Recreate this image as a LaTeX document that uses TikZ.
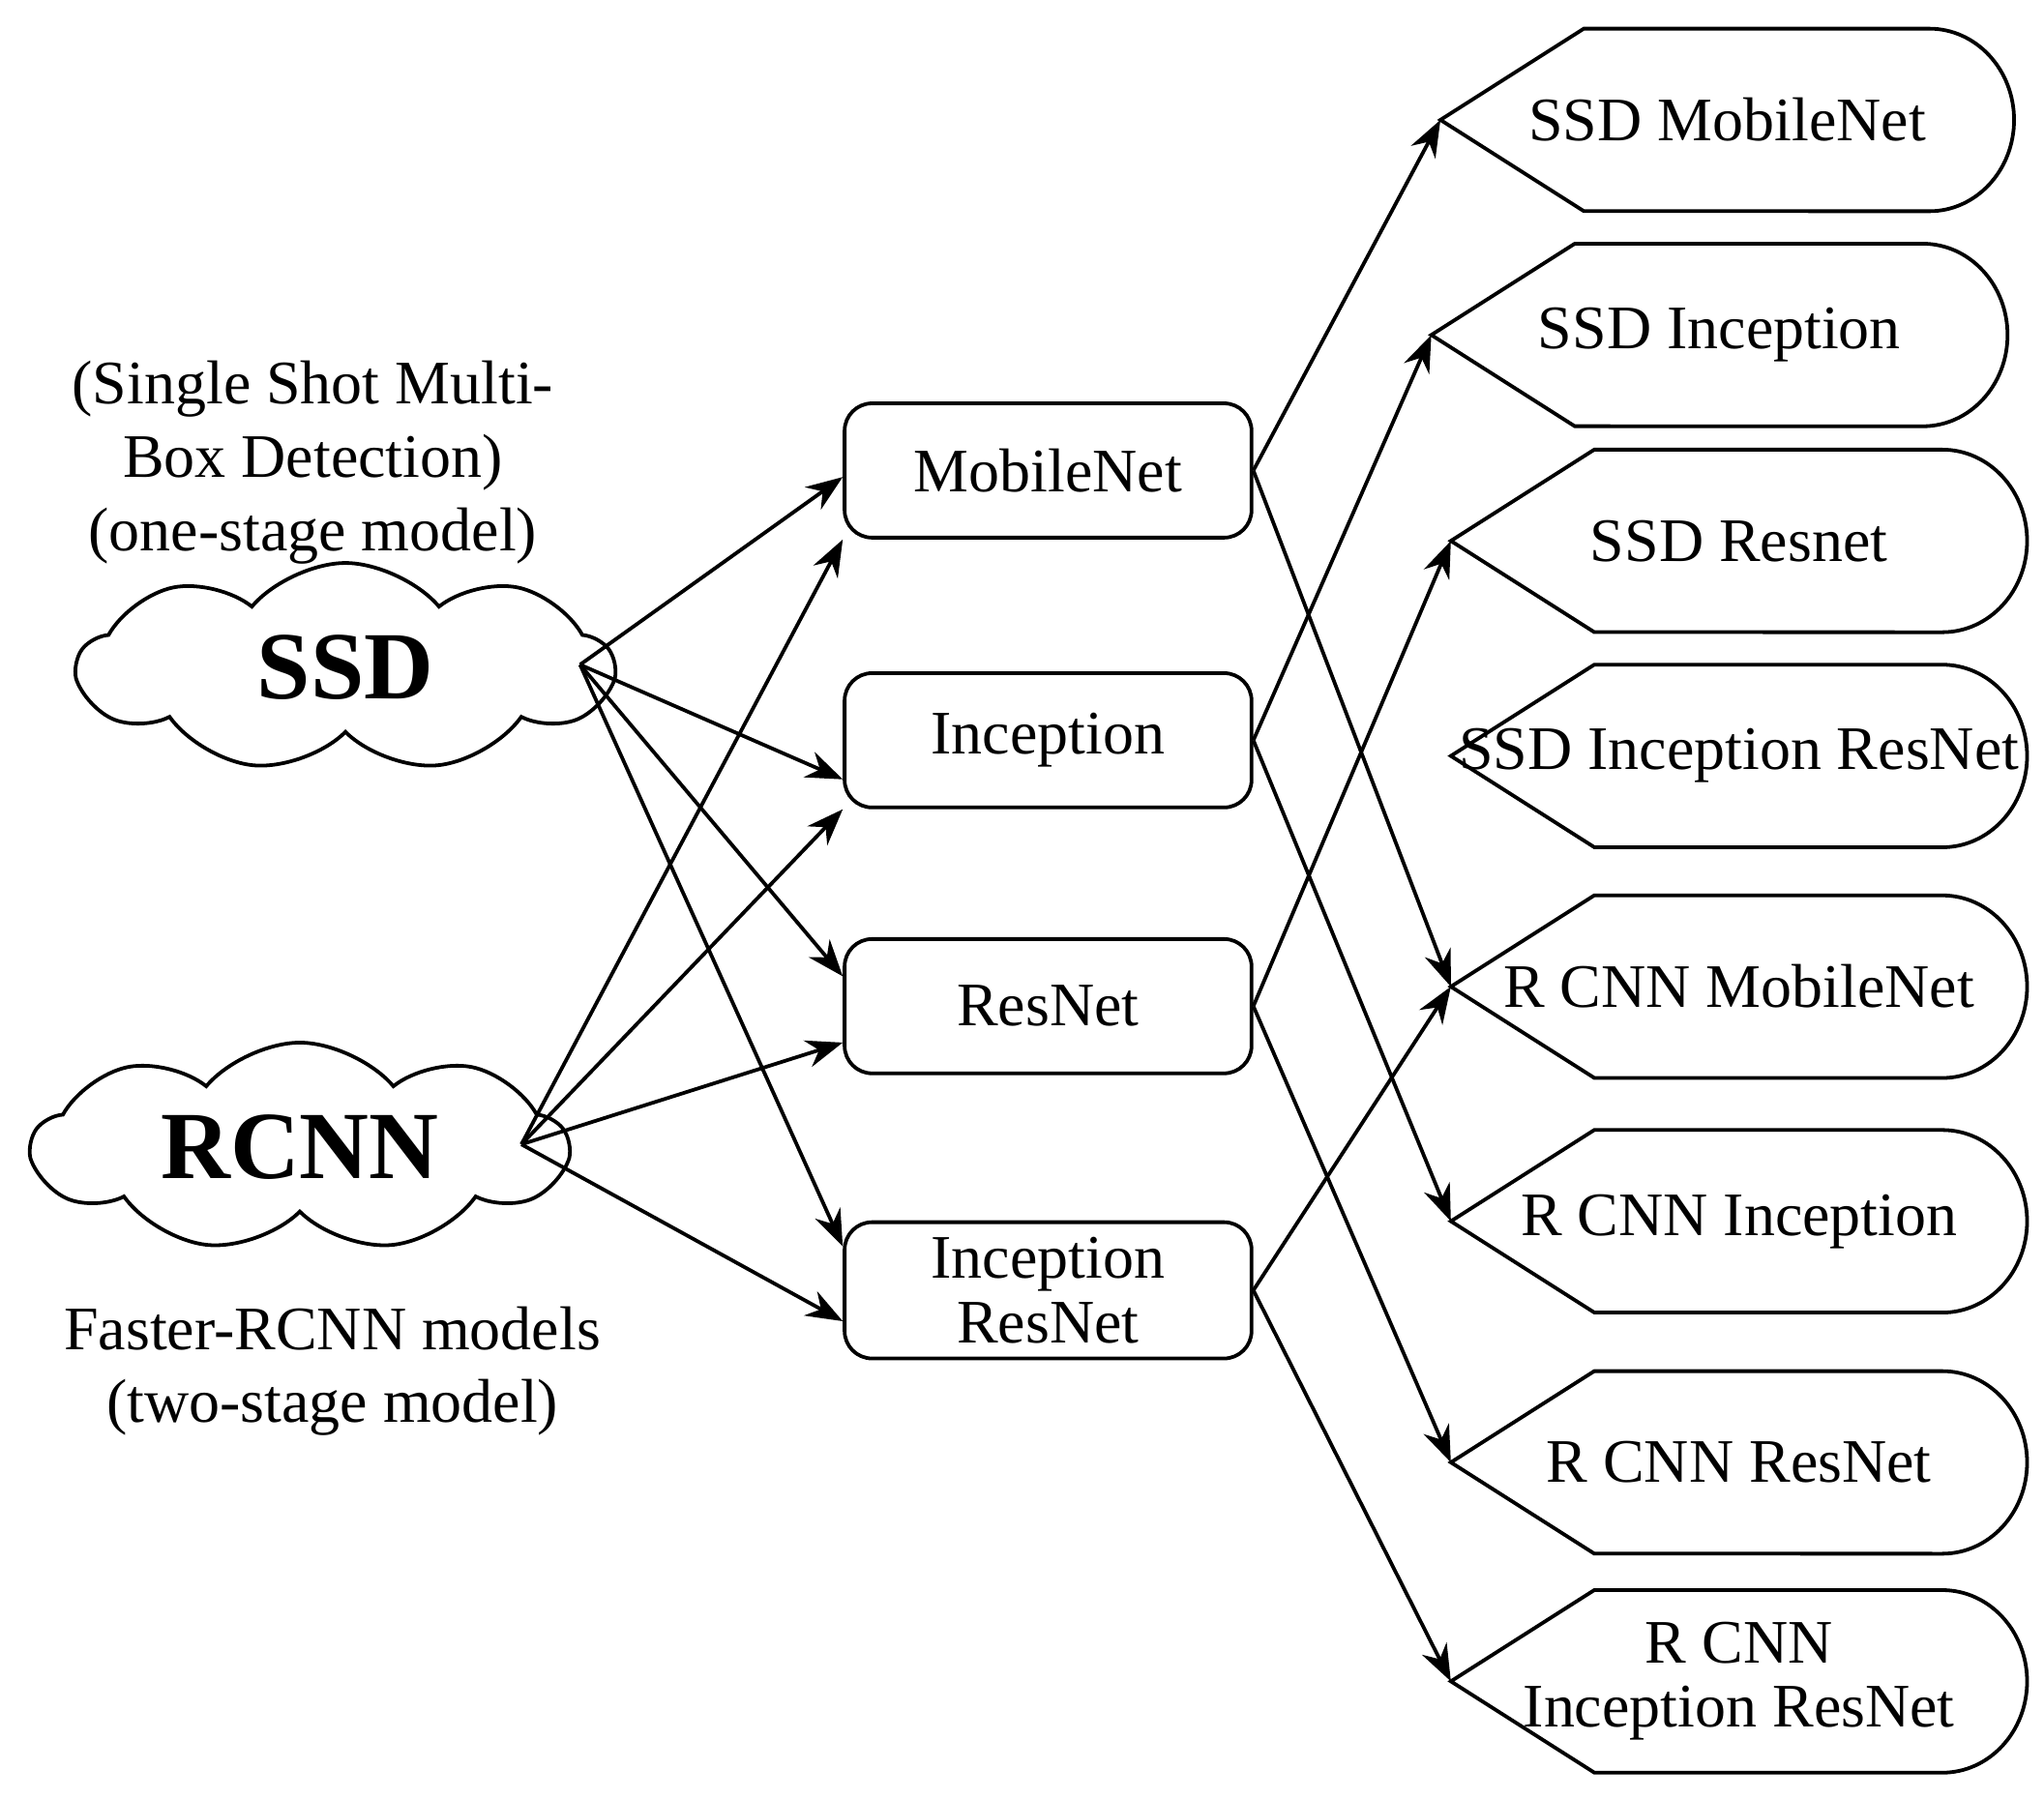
\documentclass[tikz,border=0pt]{standalone}
\usepackage{fontspec}
\setmainfont{Liberation Serif}
\usetikzlibrary{shapes.symbols,arrows.meta}

% output shape: name, y, tip x, right x, text
\newcommand{\outshape}[5]{%
  \coordinate (#1) at (#3,#2);
  \draw (#1) -- (#3+110,#2-70) -- (#4-65,#2-70)
    arc[start angle=90,end angle=-90,x radius=0.65cm,y radius=0.7cm]
    -- (#3+110,#2+70) -- cycle;
  \node[txt] (#1-t) at ({(#3+#4)/2},#2) {#5};}

\begin{document}
\begin{tikzpicture}[x=0.01cm,y=-0.01cm,line width=0.8pt,
  txt/.style={font=\fontsize{13.5}{16}\selectfont,align=center},
  box/.style={draw,rounded corners=6pt,minimum width=3.12cm,minimum height=1.03cm,txt},
  blob/.style={draw,cloud,cloud puffs=9,cloud puff arc=100,aspect=2.6,inner sep=0pt,
    minimum width=4.1cm,minimum height=1.6cm,font=\fontsize{21}{24}\selectfont\bfseries},
  arr/.style={-{Stealth[length=8pt,width=6pt]}}]
\useasboundingbox (0,0) rectangle (1568,1380);

% left clouds
\node[blob] (ssd) at (265,512) {SSD};
\node[blob] (rcnn) at (230,880) {RCNN};
\node[txt] (ssd-l) at (240,355) {(Single Shot Multi-\\Box Detection)\\(one-stage model)};
\node[txt] (rcnn-l) at (255,1052) {Faster-RCNN models\\(two-stage model)};
\coordinate (ssd-o) at (445,510);
\coordinate (rcnn-o) at (400,878);

% backbones
\node[box] (mob) at (804,361) {MobileNet};
\node[box] (inc) at (804,568) {Inception};
\node[box] (res) at (804,772) {ResNet};
\node[box] (incres) at (804,990) {Inception\\[-2pt]ResNet};

% outputs
\outshape{o1}{92}{1105}{1545}{SSD MobileNet}
\outshape{o2}{257}{1098}{1540}{SSD Inception}
\outshape{o3}{415}{1113}{1555}{SSD Resnet}
\outshape{o4}{580}{1113}{1555}{SSD Inception ResNet}
\outshape{o5}{757}{1113}{1555}{R CNN MobileNet}
\outshape{o6}{937}{1113}{1555}{R CNN Inception}
\outshape{o7}{1122}{1113}{1555}{R CNN ResNet}
\outshape{o8}{1290}{1113}{1555}{R CNN\\[-2pt]Inception ResNet}

% arrows from clouds
\draw[arr] (ssd-o) -- ([yshift=-0.05cm]mob.west);
\draw[arr] (ssd-o) -- ([yshift=0.23cm]inc.south west);
\draw[arr] (ssd-o) -- ([yshift=-0.3cm]res.north west);
\draw[arr] (ssd-o) -- ([yshift=-0.2cm]incres.north west);
\draw[arr] (rcnn-o) -- (mob.south west);
\draw[arr] (rcnn-o) -- (inc.south west);
\draw[arr] (rcnn-o) -- ([yshift=0.25cm]res.south west);
\draw[arr] (rcnn-o) -- ([yshift=0.3cm]incres.south west);

% arrows to outputs
\draw[arr] (mob.east) -- (o1);
\draw[arr] (mob.east) -- (o5);
\draw[arr] (inc.east) -- (o2);
\draw[arr] (inc.east) -- (o6);
\draw[arr] (res.east) -- (o3);
\draw[arr] (res.east) -- (o7);
\draw[arr] (incres.east) -- (o5);
\draw[arr] (incres.east) -- (o8);
\end{tikzpicture}
\end{document}
